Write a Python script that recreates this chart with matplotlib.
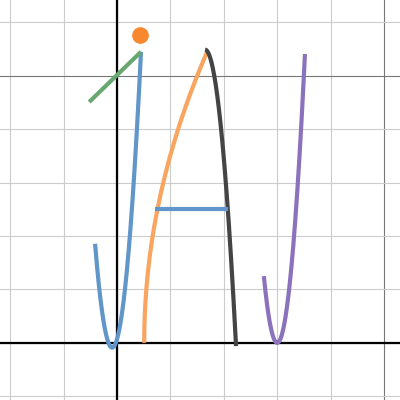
import numpy as np
import matplotlib
matplotlib.use("Agg")
import matplotlib.pyplot as plt

# curve parameters
blue_par = dict(a=19.0, h=-0.09, k=-0.09, x0=-0.41, x1=0.45)
orange_sqrt = dict(a=5.02, h=0.51, x1=1.69)
black_par = dict(b=16.5, h=1.65, k=5.49, x1=2.23)
purple_par = dict(a=20.0, h=3.0, k=0.0, x0=2.75, x1=3.52)
green_x = [-0.52, 0.45]
green_y = [4.51, 5.45]
bar_x = [0.71, 2.08]
bar_y = [2.51, 2.51]
dot_x = [0.43]
dot_y = [5.77]

fig = plt.figure(figsize=(4, 4), dpi=100)
ax = fig.add_axes([0, 0, 1, 1])
ax.set_xlim(-2.19, 5.30)
ax.set_ylim(-1.07, 6.42)
for v in np.arange(-2, 6):
    ax.axvline(v, color="#cccccc" if v % 5 else "#777777", lw=0.8, zorder=0)
for v in np.arange(-1, 7):
    ax.axhline(v, color="#cccccc" if v % 5 else "#777777", lw=0.8, zorder=0)
ax.axhline(0, color="black", lw=1.6, zorder=1)
ax.axvline(0, color="black", lw=1.6, zorder=1)
ax.set_xticks([]); ax.set_yticks([])
for s in ax.spines.values():
    s.set_visible(False)

lw = 3
x = np.linspace(blue_par["x0"], blue_par["x1"], 200)
ax.plot(x, blue_par["a"] * (x - blue_par["h"])**2 + blue_par["k"], color="#6096c9", lw=lw, solid_capstyle="butt")
x = np.linspace(orange_sqrt["h"], orange_sqrt["x1"], 300)
ax.plot(x, orange_sqrt["a"] * np.sqrt(x - orange_sqrt["h"]), color="#f9a55f", lw=lw, solid_capstyle="butt")
x = np.linspace(black_par["h"], black_par["x1"], 200)
ax.plot(x, black_par["k"] - black_par["b"] * (x - black_par["h"])**2, color="#444444", lw=lw, solid_capstyle="butt")
x = np.linspace(purple_par["x0"], purple_par["x1"], 200)
ax.plot(x, purple_par["a"] * (x - purple_par["h"])**2 + purple_par["k"], color="#8b72bd", lw=lw, solid_capstyle="butt")
ax.plot(green_x, green_y, color="#68a870", lw=lw, solid_capstyle="butt")
ax.plot(bar_x, bar_y, color="#6096c9", lw=lw, solid_capstyle="butt")
ax.plot(dot_x, dot_y, "o", color="#f7882f", ms=11)
fig.savefig("out.png")
